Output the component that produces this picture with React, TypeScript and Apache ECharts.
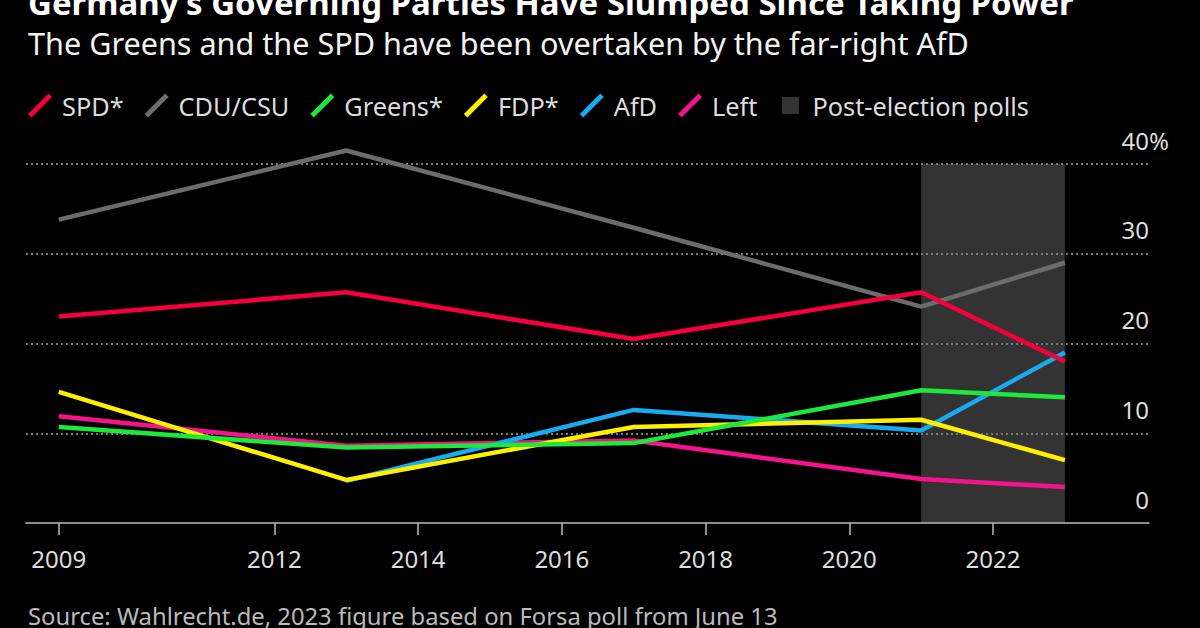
import React, { useEffect, useRef } from "react";
import * as echarts from "echarts";

// ---- data ----
const electionYears = [2009, 2013, 2017, 2021, 2023];
const spdValues = [23.0, 25.7, 20.5, 25.7, 18.0];
const cduValues = [33.8, 41.5, 32.9, 24.1, 29.0];
const greensValues = [10.7, 8.4, 8.9, 14.8, 14.0];
const fdpValues = [14.6, 4.8, 10.7, 11.5, 7.0];
const afdValues: (number | null)[] = [null, 4.7, 12.6, 10.3, 19.0];
const leftValues = [11.9, 8.6, 9.2, 4.9, 4.0];
const postElectionSpan = [2021, 2023];
const xTickYears = [2009, 2012, 2014, 2016, 2018, 2020, 2022];
const yTicks = [0, 10, 20, 30, 40];

const titleText = "Germany\u2019s Governing Parties Have Slumped Since Taking Power";
const subtitleText = "The Greens and the SPD have been overtaken by the far-right AfD";
const sourceText = "Source: Wahlrecht.de, 2023 figure based on Forsa poll from June 13";

const FONT = '"Noto Sans", "Open Sans", sans-serif';

const slashIcon = "path://M0,20.5 L20.5,0 L24,3.5 L3.5,24 Z";
const squareIcon = "path://M0,0 L0,0 M3.5,3.5 L20.5,3.5 L20.5,20.5 L3.5,20.5 Z M24,24 L24,24";

const pairs = (vals: (number | null)[]) =>
  electionYears
    .map((y, i) => [y, vals[i]] as [number, number | null])
    .filter((p) => p[1] !== null);

const partySeries = [
  { name: "SPD*", color: "#f5003d", values: spdValues },
  { name: "CDU/CSU", color: "#6c6c6c", values: cduValues },
  { name: "Greens*", color: "#1ee83a", values: greensValues },
  { name: "FDP*", color: "#fff000", values: fdpValues },
  { name: "AfD", color: "#19aaf0", values: afdValues },
  { name: "Left", color: "#f5138c", values: leftValues },
];

export default function App() {
  const ref = useRef<HTMLDivElement>(null);

  useEffect(() => {
    if (!ref.current) return;
    const chart = echarts.init(ref.current, undefined, { renderer: "svg" });

    const lineSeries = partySeries
      .slice()
      .reverse()
      .map((s) => ({
        name: s.name,
        type: "line",
        data: pairs(s.values),
        symbol: "none",
        clip: false,
        color: s.color,
        lineStyle: { color: s.color, width: 4.5 },
        itemStyle: { color: s.color },
        z: 3,
      }));

    const option: any = {
      animation: false,
      backgroundColor: "#000000",
      textStyle: { fontFamily: FONT },
      grid: { left: 26, right: 51, top: 164, bottom: 105 },
      legend: {
        left: 28,
        top: 93,
        padding: 0,
        itemWidth: 24,
        itemHeight: 24,
        itemGap: 21,
        selectedMode: false,
        itemStyle: { borderWidth: 0 },
        textStyle: { color: "#dddddd", fontSize: 25.3, fontFamily: FONT, padding: [0, 0, 0, 5] },
        data: [
          ...partySeries.map((s) => ({ name: s.name, icon: slashIcon })),
          { name: "Post-election polls", icon: squareIcon },
        ],
      },
      xAxis: {
        type: "value",
        min: 2008.544,
        max: 2024.17,
        splitLine: { show: false },
        axisLine: { show: true, onZero: false, lineStyle: { color: "#bbbbbb", width: 1.5 } },
        axisTick: {
          show: true,
          length: 12,
          customValues: xTickYears,
          lineStyle: { color: "#bbbbbb", width: 1.5 },
        },
        axisLabel: {
          customValues: xTickYears,
          formatter: (v: number) => String(v),
          fontSize: 24,
          color: "#dddddd",
          fontFamily: FONT,
          margin: 23,
        },
      },
      yAxis: {
        type: "value",
        position: "right",
        min: yTicks[0],
        max: yTicks[yTicks.length - 1],
        interval: 10,
        axisLine: { show: false },
        axisTick: { show: false },
        splitLine: {
          show: true,
          showMinLine: false,
          lineStyle: { color: "#7a7a7a", type: [2, 3], width: 2 },
        },
        axisLabel: {
          inside: true,
          margin: 0,
          fontSize: 24,
          fontFamily: FONT,
          color: "#dddddd",
          verticalAlign: "bottom",
          lineHeight: 48,
          formatter: (v: number) =>
            v === yTicks[yTicks.length - 1] ? `{n|${v}}{p|%}` : `{n|${v}}`,
          rich: {
            n: { align: "left", color: "#dddddd", fontSize: 24, fontFamily: FONT },
            p: { align: "left", width: 0.1, color: "#dddddd", fontSize: 24, fontFamily: FONT },
          },
        },
      },
      graphic: [
        {
          type: "text",
          x: 28,
          y: 2,
          style: {
            text: titleText,
            font: `bold 33px ${FONT}`,
            fill: "#ffffff",
            verticalAlign: "middle",
          },
        },
        {
          type: "text",
          x: 28,
          y: 42.5,
          style: {
            text: subtitleText,
            font: `30.6px ${FONT}`,
            fill: "#f2f2f2",
            verticalAlign: "middle",
          },
        },
        {
          type: "text",
          x: 28,
          y: 615.5,
          style: {
            text: sourceText,
            font: `23.8px ${FONT}`,
            fill: "#bbbbbb",
            verticalAlign: "middle",
          },
        },
      ],
      series: [
        {
          name: "Post-election polls",
          type: "line",
          data: [],
          color: "#333333",
          itemStyle: { color: "#333333" },
          z: 1,
          markArea: {
            silent: true,
            z: -1,
            itemStyle: { color: "#333333" },
            data: [[{ xAxis: postElectionSpan[0] }, { xAxis: postElectionSpan[1] }]],
          },
        },
        ...lineSeries,
      ],
    };

    chart.setOption(option);
    return () => chart.dispose();
  }, []);

  return (
    <div
      ref={ref}
      style={{ position: "fixed", left: 0, top: 0, width: 1200, height: 628 }}
    />
  );
}
